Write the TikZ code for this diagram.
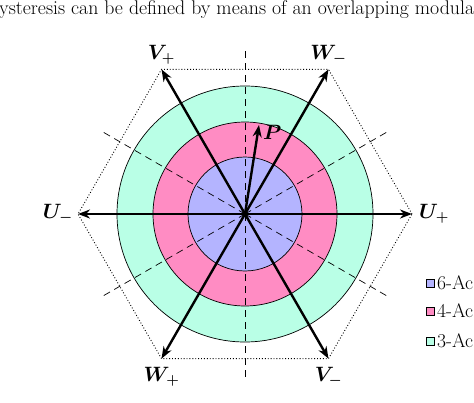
\documentclass[tikz,border=0pt]{standalone}
\usepackage{amsmath,bm}
\usetikzlibrary{arrows.meta}
\definecolor{sixcol}{RGB}{180,180,255}
\definecolor{fourcol}{RGB}{255,140,195}
\definecolor{threecol}{RGB}{185,255,230}
\tikzset{
  vec/.style={line width=2.4pt,-{Stealth[length=12pt,width=9pt]}},
  ring/.style={draw=black,line width=0.7pt},
  guide/.style={line width=0.7pt,dash pattern=on 7pt off 5pt},
  legbox/.style={draw=black,line width=0.5pt,minimum size=8.5pt,inner sep=0pt},
  lbl/.style={font=\fontsize{21}{24}\selectfont,inner sep=0pt},
  legtext/.style={font=\fontsize{19.6}{23}\selectfont,anchor=west,inner sep=0pt}
}
\begin{document}
\begin{tikzpicture}[x=1pt,y=1pt]
  \useasboundingbox (-245,-188) rectangle (229,214);

  % Caption line above the picture
  \node[anchor=base west,inner sep=0pt,font=\fontsize{19.8}{23}\selectfont] (caption) at (-246,199) {ysteresis can be defined by means of an overlapping modula};

  % Centre and hexagon corners
  \coordinate (O) at (0,0);
  \coordinate (Up) at (0:167pt);
  \coordinate (Wm) at (60:167pt);
  \coordinate (Vp) at (120:167pt);
  \coordinate (Um) at (180:167pt);
  \coordinate (Wp) at (240:167pt);
  \coordinate (Vm) at (300:167pt);
  \coordinate (P) at (14,89);

  % Hexagon
  \draw[dotted,line width=0.9pt] (Up) -- (Wm) -- (Vp) -- (Um) -- (Wp) -- (Vm) -- cycle;

  % Regions
  \filldraw[ring,fill=threecol] (O) circle (128pt);
  \filldraw[ring,fill=fourcol] (O) circle (92pt);
  \filldraw[ring,fill=sixcol] (O) circle (57pt);

  % Dashed sector borders
  \foreach \a in {30,90,150,210,270,330}
    \draw[guide] (O) -- (\a:166pt);

  % Voltage vectors
  \foreach \c in {Up,Wm,Vp,Um,Wp,Vm}
    \draw[vec] (O) -- (\c);
  \draw[vec] (O) -- (P);

  % Labels
  \node[lbl,above=5pt] (lVp) at (Vp) {$\bm{V}_{\bm{+}}$};
  \node[lbl,above=5pt] (lWm) at (Wm) {$\bm{W}_{\bm{-}}$};
  \node[lbl,left=5pt] (lUm) at (Um) {$\bm{U}_{\bm{-}}$};
  \node[lbl,right=7pt] (lUp) at (Up) {$\bm{U}_{\bm{+}}$};
  \node[lbl,below=8pt] (lWp) at (Wp) {$\bm{W}_{\bm{+}}$};
  \node[lbl,below=8pt] (lVm) at (Vm) {$\bm{V}_{\bm{-}}$};
  \node[lbl,anchor=west] (lP) at ([shift={(4,-7)}]P) {$\bm{P}$};

  % Legend
  \node[legbox,fill=sixcol] (k6) at (185,-69) {};
  \node[legbox,fill=fourcol] (k4) at (185,-97) {};
  \node[legbox,fill=threecol] (k3) at (185,-127) {};
  \node[legtext] (t6) at (192,-69) {6-Ac};
  \node[legtext] (t4) at (192,-97) {4-Ac};
  \node[legtext] (t3) at (192,-127) {3-Ac};
\end{tikzpicture}
\end{document}
